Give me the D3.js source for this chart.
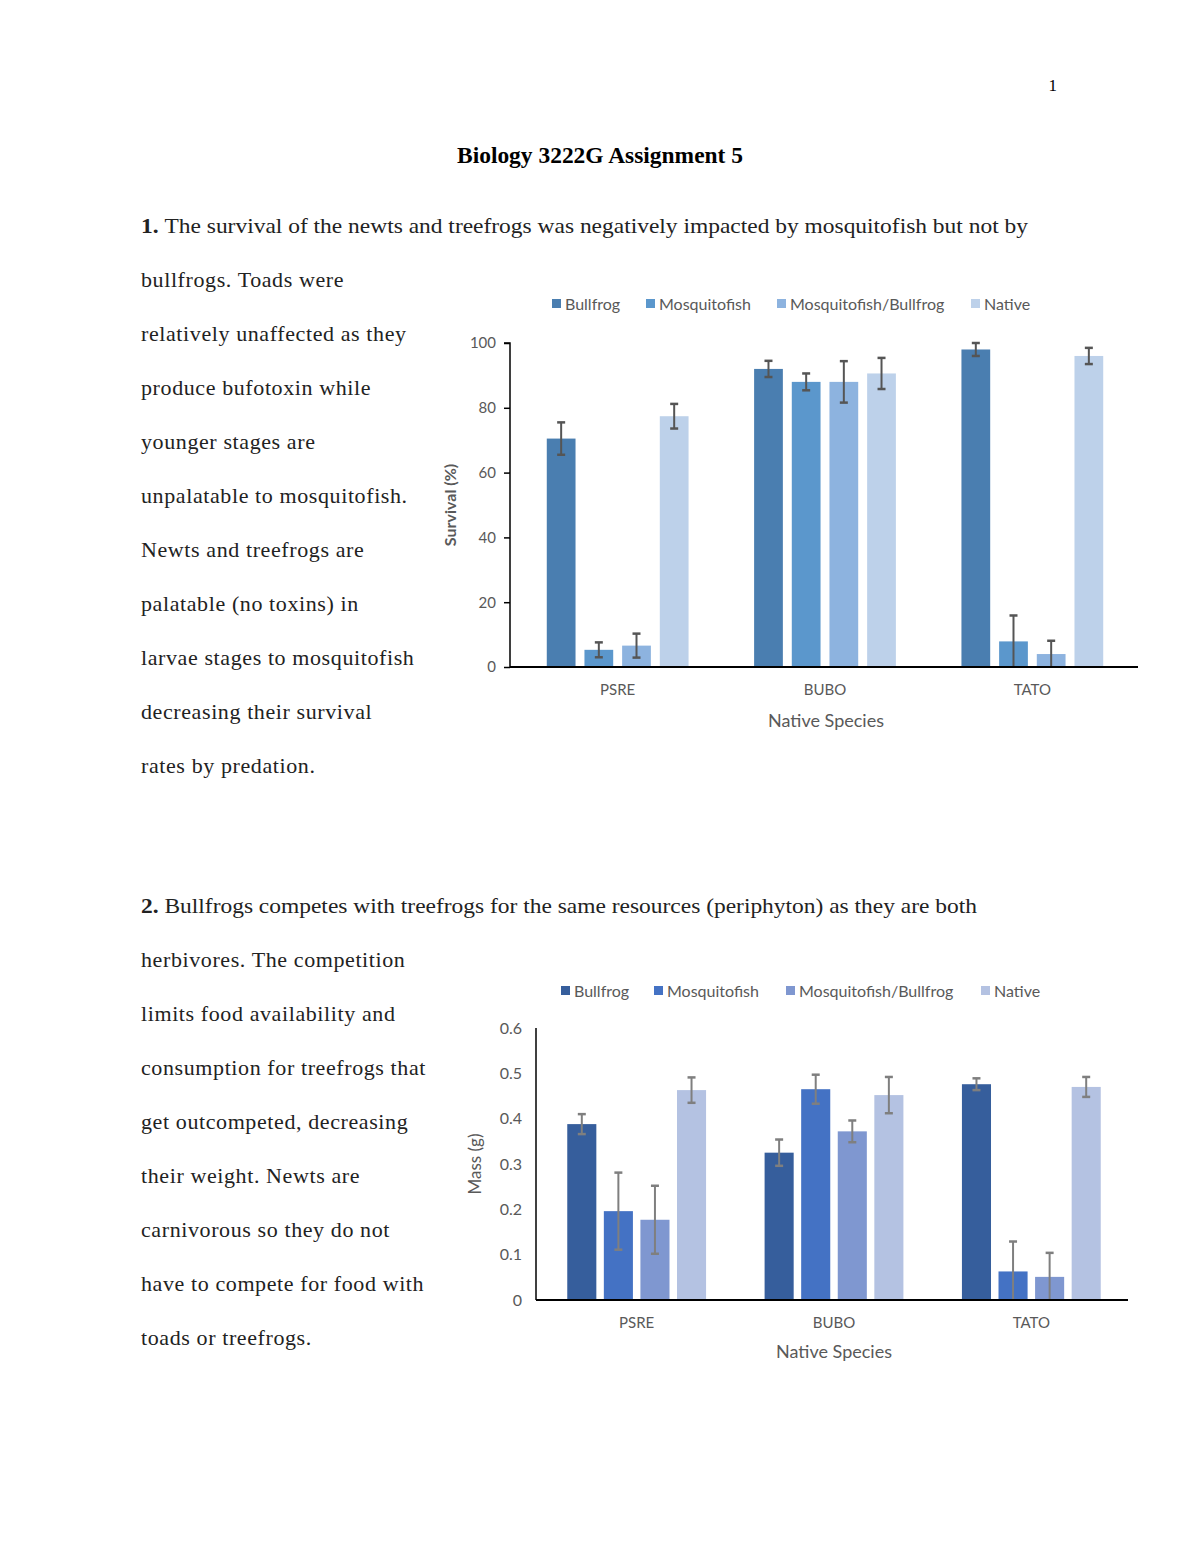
<!DOCTYPE html>
<html>
<head>
<meta charset="utf-8">
<script src="https://cdn.jsdelivr.net/npm/d3@7"></script>
<style>
  body { margin: 0; background: #fff; }
  svg { display: block; }
</style>
</head>
<body>
<svg class="page" width="1200" height="1553"></svg>
<script>
// ---- data ----
const species = ["PSRE", "BUBO", "TATO"];
const treatments = ["Bullfrog", "Mosquitofish", "Mosquitofish/Bullfrog", "Native"];

// survival (%) per species, in treatment order
const survival = [
    [70.5, 5.3, 6.6, 77.4],
    [92.0, 88.0, 88.0, 90.6],
    [98.0, 7.9, 4.0, 96.0]
];
const survivalErr = [
    [5.0, 2.3, 3.7, 3.8],
    [2.5, 2.6, 6.4, 4.8],
    [2.0, 8.0, 4.1, 2.5]
];
const survivalTicks = [0, 20, 40, 60, 80, 100];

// mass (g)
const mass = [
    [0.388, 0.196, 0.177, 0.463],
    [0.325, 0.465, 0.372, 0.452],
    [0.476, 0.063, 0.051, 0.470]
];
const massErr = [
    [0.022, 0.085, 0.075, 0.028],
    [0.029, 0.032, 0.024, 0.040],
    [0.013, 0.066, 0.053, 0.022]
];
const massTicks = [0, 0.1, 0.2, 0.3, 0.4, 0.5, 0.6];

const para1 = "The survival of the newts and treefrogs was negatively impacted by mosquitofish but not by";
const col1 = ["bullfrogs. Toads were", "relatively unaffected as they", "produce bufotoxin while",
    "younger stages are", "unpalatable to mosquitofish.", "Newts and treefrogs are",
    "palatable (no toxins) in", "larvae stages to mosquitofish", "decreasing their survival",
    "rates by predation."];
const para2 = "Bullfrogs competes with treefrogs for the same resources (periphyton) as they are both";
const col2 = ["herbivores. The competition", "limits food availability and",
    "consumption for treefrogs that", "get outcompeted, decreasing", "their weight. Newts are",
    "carnivorous so they do not", "have to compete for food with", "toads or treefrogs."];

const vis = {

    sels: { svg: null },

    styles: {
        serif: "'Liberation Serif', 'DejaVu Serif', serif",
        sans: "Lato, 'Open Sans', sans-serif",
        grey: "#595959"
    },

    charts: [
        {
            vals: survival, errs: survivalErr, ticks: survivalTicks, max: 100,
            fmt: d => d,
            colors: ["#4a7eb0", "#5b97cc", "#8db3df", "#bdd1ea"],
            errColor: "#555",
            x0: 510, x1: 1138, band: [514, 1136], yTop: 343, yBase: 667,
            padInner: 0.237, padOuter: 0.87, tickMarks: true, tickFont: 15,
            legendY: 304, legendX: [552, 646, 777, 971],
            ylabel: "Survival (%)", ylabelX: 456, ylabelBold: true, ylabelFont: 16,
            xlabY: 695, titleY: 727
        },
        {
            vals: mass, errs: massErr, ticks: massTicks, max: 0.6,
            fmt: d => d === 0 ? "0" : d3.format(".1f")(d),
            colors: ["#365e9c", "#4472c4", "#7f97d0", "#b4c2e2"],
            errColor: "#7f7f7f",
            x0: 536, x1: 1128, band: [538, 1130], yTop: 1028, yBase: 1300,
            padInner: 0.205, padOuter: 0.80, tickMarks: false, tickFont: 16,
            legendY: 991, legendX: [561, 654, 786, 981],
            ylabel: "Mass (g)", ylabelX: 481, ylabelBold: false, ylabelFont: 17,
            xlabY: 1328, titleY: 1358
        }
    ],

    f: {

        text_block: function() {

            const svg = vis.sels.svg;
            const serif = vis.styles.serif;

            svg.append("text")
                .attr("x", 1057).attr("y", 91)
                .attr("text-anchor", "end")
                .attr("font-family", serif).attr("font-size", 17)
                .text("1");

            svg.append("text")
                .attr("x", 457).attr("y", 163)
                .attr("font-family", serif).attr("font-size", 23)
                .attr("font-weight", "bold")
                .attr("textLength", 286).attr("lengthAdjust", "spacingAndGlyphs")
                .text("Biology 3222G Assignment 5");

            const lead = function(y, num, txt, width) {
                const t = svg.append("text")
                    .attr("x", 141).attr("y", y)
                    .attr("font-family", serif).attr("font-size", 21)
                    .attr("fill", "#222");
                t.append("tspan").attr("font-weight", "bold").text(num + " ");
                t.append("tspan").text(txt);
                t.attr("textLength", width).attr("lengthAdjust", "spacingAndGlyphs");
            };

            lead(233, "1.", para1, 887);
            lead(913, "2.", para2, 836);

            const column = function(lines, y0) {
                svg.append("g").selectAll("text")
                    .data(lines)
                    .join("text")
                    .attr("x", 141)
                    .attr("y", (d, i) => y0 + i * 54)
                    .attr("font-family", serif).attr("font-size", 22)
                    .attr("letter-spacing", 0.6)
                    .attr("fill", "#222")
                    .text(d => d);
            };

            column(col1, 287);
            column(col2, 967);
        }
    },

    draw: {

        bar_chart: function(c) {

            const svg = vis.sels.svg;
            const g = svg.append("g");
            const grey = vis.styles.grey;
            const sans = vis.styles.sans;

            const x = d3.scaleBand()
                .domain(species)
                .range(c.band);

            const xs = d3.scaleBand()
                .domain(treatments)
                .range([0, x.bandwidth()])
                .paddingInner(c.padInner)
                .paddingOuter(c.padOuter);

            const y = d3.scaleLinear()
                .domain([0, c.max])
                .range([c.yBase, c.yTop]);

            // bars
            const groups = g.append("g").selectAll("g")
                .data(species)
                .join("g")
                .attr("transform", d => `translate(${x(d)},0)`);

            groups.selectAll("rect")
                .data((d, i) => treatments.map((t, j) => ({ t: t, v: c.vals[i][j], j: j })))
                .join("rect")
                .attr("x", d => xs(d.t))
                .attr("width", xs.bandwidth())
                .attr("y", d => y(d.v))
                .attr("height", d => y(0) - y(d.v))
                .attr("fill", d => c.colors[d.j]);

            // error bars
            const eb = groups.selectAll("g.err")
                .data((d, i) => treatments.map((t, j) => ({ t: t, v: c.vals[i][j], e: c.errs[i][j] })))
                .join("g")
                .attr("class", "err")
                .attr("stroke", c.errColor)
                .attr("stroke-width", 2);

            const cx = d => xs(d.t) + xs.bandwidth() / 2;

            eb.append("line")
                .attr("x1", cx).attr("x2", cx)
                .attr("y1", d => y(d.v + d.e))
                .attr("y2", d => y(Math.max(0, d.v - d.e)));

            eb.append("line")
                .attr("stroke-width", 2.5)
                .attr("x1", d => cx(d) - 4).attr("x2", d => cx(d) + 4)
                .attr("y1", d => y(d.v + d.e)).attr("y2", d => y(d.v + d.e));

            eb.filter(d => d.v - d.e > 0).append("line")
                .attr("stroke-width", 2.5)
                .attr("x1", d => cx(d) - 4).attr("x2", d => cx(d) + 4)
                .attr("y1", d => y(d.v - d.e)).attr("y2", d => y(d.v - d.e));

            // y axis
            const ya = g.append("g")
                .attr("transform", `translate(${c.x0},0)`)
                .call(d3.axisLeft(y)
                    .tickValues(c.ticks)
                    .tickFormat(c.fmt)
                    .tickSize(c.tickMarks ? 6 : 0)
                    .tickPadding(c.tickMarks ? 8 : 14));
            ya.select(".domain").attr("stroke", "#000").attr("stroke-width", 1.5)
                .attr("d", `M-${c.tickMarks ? 6 : 0},${c.yTop}H0V${c.yBase}`);
            ya.selectAll(".tick line").attr("stroke", "#000").attr("stroke-width", 1.5);
            ya.selectAll(".tick text")
                .attr("font-family", sans).attr("font-size", c.tickFont).attr("fill", grey);

            // x axis
            const xa = g.append("g")
                .attr("transform", `translate(0,${c.yBase})`)
                .call(d3.axisBottom(x).tickSize(0).tickPadding(0));
            xa.select(".domain").attr("stroke", "#000").attr("stroke-width", 2)
                .attr("d", `M${c.x0},0H${c.x1}`);
            xa.selectAll(".tick text")
                .attr("dy", 0)
                .attr("y", c.xlabY - c.yBase)
                .attr("font-family", sans).attr("font-size", 15).attr("fill", grey);

            // axis titles
            g.append("text")
                .attr("x", (c.x0 + c.x1) / 2 + 2).attr("y", c.titleY)
                .attr("text-anchor", "middle")
                .attr("font-family", sans).attr("font-size", 18).attr("fill", grey)
                .text("Native Species");

            g.append("text")
                .attr("transform", `translate(${c.ylabelX},${(c.yTop + c.yBase) / 2}) rotate(-90)`)
                .attr("text-anchor", "middle")
                .attr("font-family", sans).attr("font-size", c.ylabelFont).attr("fill", grey)
                .attr("font-weight", c.ylabelBold ? "bold" : "normal")
                .text(c.ylabel);

            // legend
            const lg = g.append("g").selectAll("g")
                .data(treatments)
                .join("g")
                .attr("transform", (d, i) => `translate(${c.legendX[i]},${c.legendY})`);
            lg.append("rect")
                .attr("x", 0).attr("y", -5).attr("width", 9).attr("height", 9)
                .attr("fill", (d, i) => c.colors[i]);
            lg.append("text")
                .attr("x", 13).attr("y", 5.5)
                .attr("font-family", sans).attr("font-size", 16).attr("fill", grey)
                .text(d => d);
        }
    },

    control: {

        init: function() {
            vis.sels.svg = d3.select("svg.page");
            vis.f.text_block();
            vis.charts.forEach(c => vis.draw.bar_chart(c));
        }
    }
};

vis.control.init();
</script>
</body>
</html>
